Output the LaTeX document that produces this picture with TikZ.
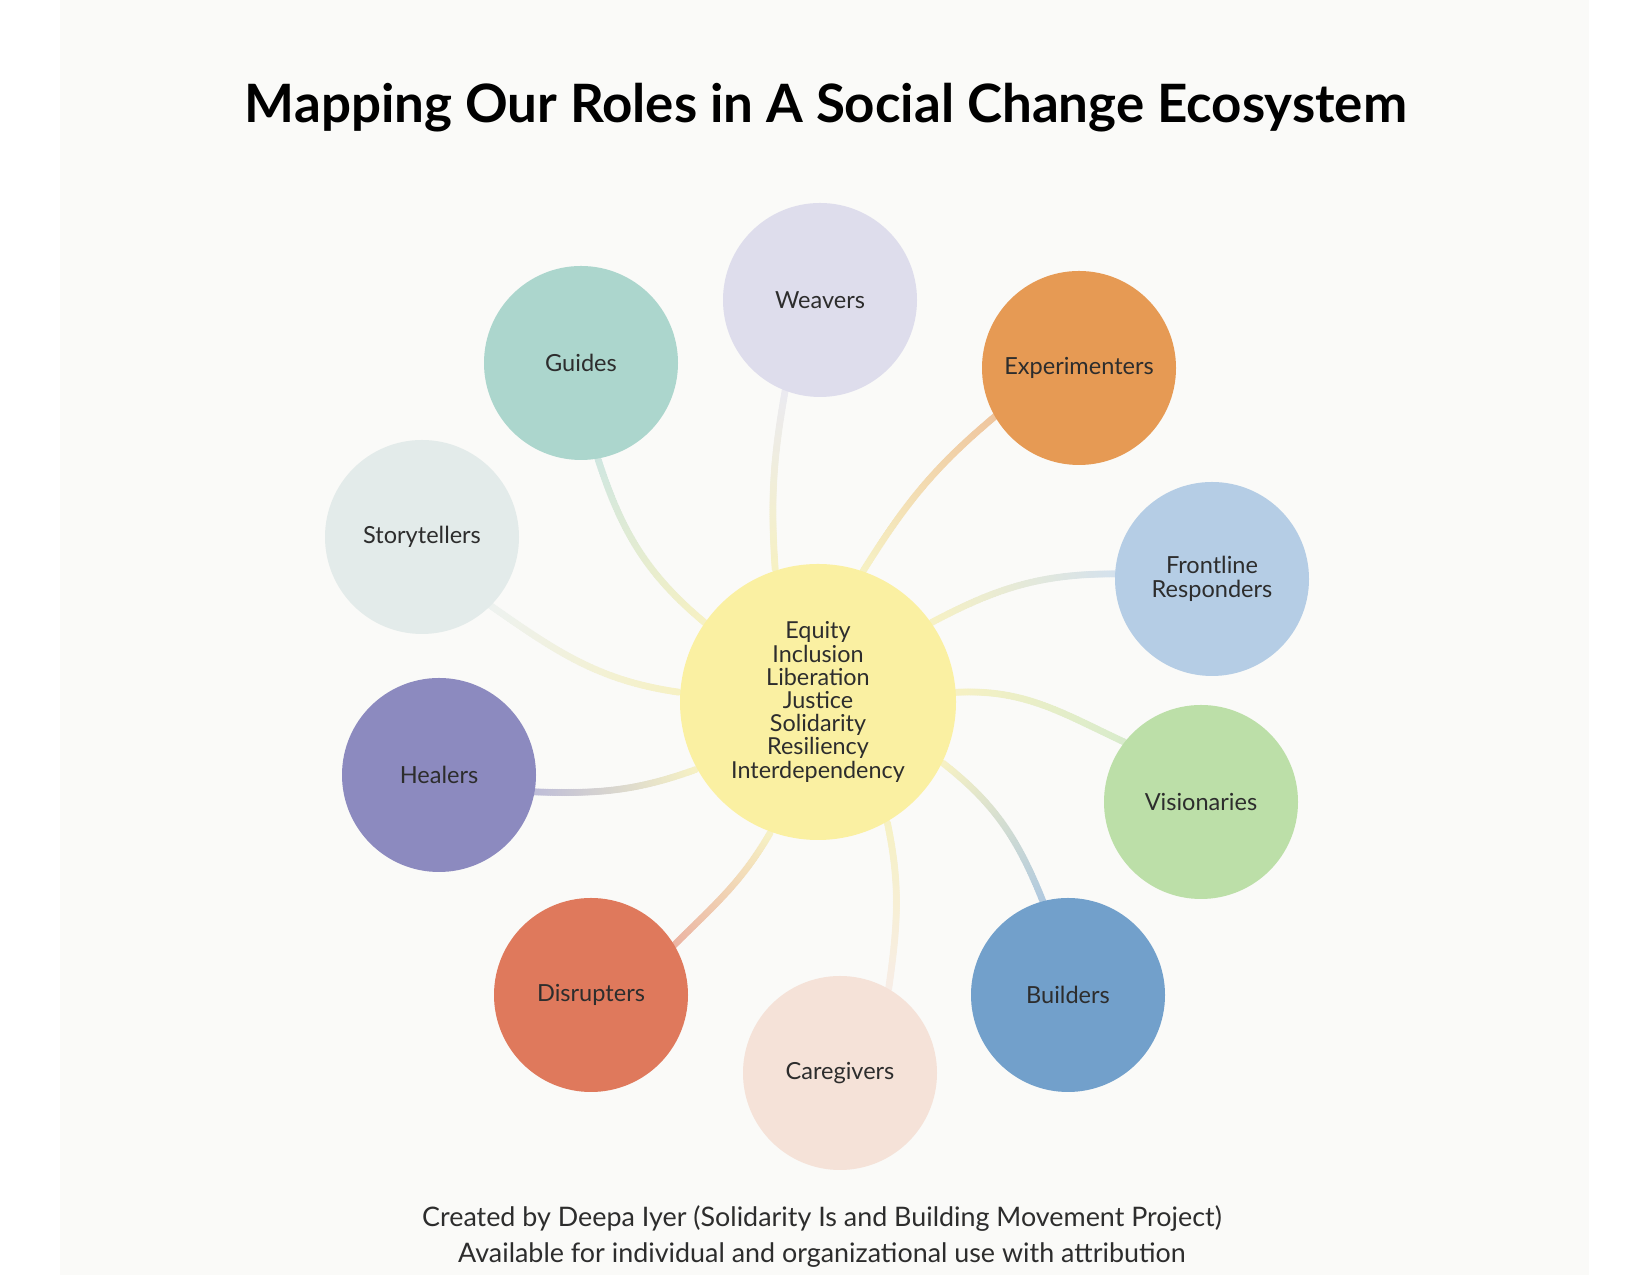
\documentclass[tikz,border=0pt]{standalone}
\usepackage{fontspec}
\setmainfont{Lato}
\usetikzlibrary{backgrounds,decorations.markings}

%colours
\definecolor{panel}{RGB}{250,250,248}
\definecolor{ink}{RGB}{45,45,45}
\definecolor{core}{RGB}{250,240,162}
\definecolor{linkend}{RGB}{246,241,196}
\definecolor{weavers}{RGB}{222,221,236}
\definecolor{guides}{RGB}{172,214,205}
\definecolor{experimenters}{RGB}{230,154,84}
\definecolor{storytellers}{RGB}{227,235,234}
\definecolor{frontline}{RGB}{181,205,229}
\definecolor{healers}{RGB}{140,138,191}
\definecolor{visionaries}{RGB}{188,223,168}
\definecolor{disrupters}{RGB}{223,121,92}
\definecolor{caregivers}{RGB}{245,226,216}
\definecolor{builders}{RGB}{114,160,203}

\tikzset{
  role/.style={circle,fill=#1,inner sep=0pt,minimum size=38.8mm,align=center,
    text=ink,font=\fontsize{13.4}{13.3}\selectfont},
  hub/.style={circle,fill=core,inner sep=0pt,minimum size=55.2mm,align=center,
    text=ink,font=\fontsize{13.3}{13.2}\selectfont},
  heading/.style={anchor=base,text=black,font=\fontsize{30.1}{36}\selectfont\bfseries},
  credit/.style={anchor=base,text=ink,font=\fontsize{15.3}{18}\selectfont},
  %connector fading from the role colour to pale yellow
  link/.style={postaction={decorate},decoration={markings,
    mark=between positions 0 and 1 step 1pt with {%
      \pgfmathsetmacro{\mix}{max(0,min(100,100-100*\pgfkeysvalueof{/pgf/decoration/mark info/distance from start}/\pgfdecoratedpathlength))}%
      \fill[#1!55!panel!\mix!linkend] (0,0) circle (2pt);}}}
}

\begin{document}
\begin{tikzpicture}[x=0.2mm,y=0.2mm]
%page is 1650 x 1275 px, 1px = 0.2mm
%title
\node[heading] (title) at (826,1152) {Mapping Our Roles in A Social Change Ecosystem};
%centre circle
\node[hub] (core) at (818,573) {Equity\\Inclusion\\Liberation\\Justice\\Solidarity\\Resiliency\\Interdependency};
%roles round the centre
\foreach \role/\x/\y/\txt in {
  weavers/820/975/Weavers,
  guides/581/912/Guides,
  experimenters/1079/907/Experimenters,
  storytellers/422/738/Storytellers,
  frontline/1212/696/{Frontline\\Responders},
  healers/439/500/Healers,
  visionaries/1201/473/Visionaries,
  disrupters/591/280/Disrupters,
  caregivers/840/202/Caregivers,
  builders/1068/280/Builders}
{\node[role=\role] (\role) at (\x,\y) {\txt};}
%footer
\node[credit] (made) at (822,48) {Created by Deepa Iyer (Solidarity Is and Building Movement Project)};
\node[credit] (use) at (822,12) {Available for individual and organizational use with attribution};

\begin{pgfonlayer}{background}
%page and panel
\fill[white] (0,0) rectangle (1650,1275);
\fill[panel] (60,0) rectangle (1589,1275);
%connectors, role to centre: start anchor / out / in / end anchor
\foreach \role/\a/\o/\i/\b in {
  guides/-80/-72/140/145,
  weavers/-111/-100/94/108,
  experimenters/210/220/58/71,
  frontline/177/180/28/35,
  visionaries/142/155/3/4,
  builders/105/112/-38/-26,
  caregivers/60/82/-78/-60,
  disrupters/31/45/-120/-110,
  healers/-10/-2/200/209,
  storytellers/-45/-35/172/176}
{\path[link=\role] (\role.\a) to[out=\o,in=\i] (core.\b);}
\end{pgfonlayer}
\end{tikzpicture}
\end{document}
